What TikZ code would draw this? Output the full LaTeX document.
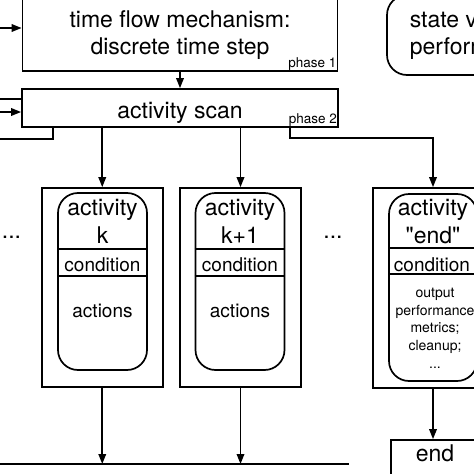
\documentclass[tikz,border=0pt]{standalone}
\usepackage{fontspec}
\setmainfont{TeX Gyre Heros}[Ligatures=TeXOff]
\usetikzlibrary{arrows.meta}
\begin{document}
\begin{tikzpicture}[x=1pt,y=-1pt, line width=1.7pt,
  box/.style={draw, rectangle, inner sep=0pt},
  rbox/.style={draw, rectangle, rounded corners=20pt, inner sep=0pt},
  big/.style={font=\fontsize{23}{27}\selectfont},
  mid/.style={font=\fontsize{19}{23}\selectfont},
  small/.style={font=\fontsize{14}{17.5}\selectfont},
  tag/.style={font=\fontsize{13.5}{16}\selectfont, inner sep=1pt, anchor=south east},
  arr/.style={-{Triangle[length=10pt,width=7.5pt]}},
  lbl/.style={anchor=base, inner sep=0pt},
]
\useasboundingbox (0,0) rectangle (474,474);
\clip (0,0) rectangle (474,474);

% phase 1: time flow
\node[box, minimum width=315pt, minimum height=77pt] (tf) at (180,32.5) {};
\node[big,lbl] (tft1) at (180,27) {time flow mechanism:};
\node[big,lbl] (tft2) at (180,54) {discrete time step};
\node[tag] (ph1) at (tf.south east) {phase 1};

% phase 2: activity scan
\node[box, minimum width=316pt, minimum height=38pt] (scan) at (180,108) {};
\node[big,lbl] (scant) at (180,118) {activity scan};
\node[tag] (ph2) at (scan.south east) {phase 2};

\draw[arr] (tf.south) -- (scan.north);

% state box (top right)
\node[rbox, minimum width=200pt, minimum height=80pt] (st) at (487,35) {};
\node[big, anchor=base west, inner sep=0pt] (st1) at (409,27) {state variables};
\node[big, anchor=base west, inner sep=0pt] (st2) at (409,54) {performance metrics};

% left inputs
\coordinate (l0) at (-2,28);
\coordinate (l1) at (-2,99);
\coordinate (l2) at (-2,112);
\coordinate (l3) at (-2,139);
\coordinate (x53) at (53,0);
\draw[arr] (l0) -- (l0 -| tf.west);
\draw (l1) -- (l1 -| scan.west);
\draw[arr] (l2) -- (l2 -| scan.west);
\draw (scan.south -| x53) |- (l3);

% divider levels
\coordinate (d1) at (0,249);
\coordinate (d2) at (0,276);
\coordinate (e1) at (0,248);
\coordinate (e2) at (0,274);

% activity k
\node[box, minimum width=121pt, minimum height=199pt] (ko) at (102.25,287.5) {};
\node[rbox, minimum width=89pt, minimum height=177pt] (ki) at (102.5,281.5) {};
\draw (ki.west |- d1) -- (ki.east |- d1);
\draw (ki.west |- d2) -- (ki.east |- d2);
\node[big,lbl] (ka) at (102.5,215) {activity};
\node[big,lbl] (kk) at (102.5,243.5) {k};
\node[mid,lbl] (kc) at (102.5,271.5) {condition};
\node[mid,lbl] (kx) at (102.5,317) {actions};

% activity k+1
\node[box, minimum width=121pt, minimum height=199pt] (mo) at (240.5,287.5) {};
\node[rbox, minimum width=89pt, minimum height=177pt] (mi) at (240,281.5) {};
\draw (mi.west |- d1) -- (mi.east |- d1);
\draw (mi.west |- d2) -- (mi.east |- d2);
\node[big,lbl] (ma) at (240,215) {activity};
\node[big,lbl] (mk) at (240,243.5) {k+1};
\node[mid,lbl] (mc) at (240,271.5) {condition};
\node[mid,lbl] (mx) at (240,317) {actions};

% activity end
\node[box, minimum width=120pt, minimum height=200pt] (eo) at (433,288) {};
\node[rbox, minimum width=88pt, minimum height=187pt] (ei) at (433,287.5) {};
\draw (ei.west |- e1) -- (ei.east |- e1);
\draw (ei.west |- e2) -- (ei.east |- e2);
\node[big,lbl] (ea) at (433,215) {activity};
\node[big,lbl] (ek) at (433,243) {"end"};
\node[mid,lbl] (ec) at (432,271.5) {condition};
\node[small,lbl] (ex1) at (435,297.5) {output};
\node[small,lbl] (ex2) at (435,315) {performance};
\node[small,lbl] (ex3) at (435,332.5) {metrics;};
\node[small,lbl] (ex4) at (435,350) {cleanup;};
\node[small,lbl] (ex5) at (435,368) {...};

% dots
\node[big,lbl] (dl) at (11.5,238.5) {...};
\node[big,lbl] (dm) at (333,238.5) {...};

% scan to activities
\draw[arr] (scan.south -| ko.north) -- (ko.north);
\draw[arr] (scan.south -| mo.north) -- (mo.north);
\coordinate (r1) at (290,0);
\coordinate (r2) at (433,138);
\draw[arr] (scan.south -| r1) |- (r2) -- (eo.north);

% bottom collector line
\coordinate (bl) at (-2,464);
\coordinate (br) at (349,464);
\draw (bl) -- (br);
\draw[arr] (ko.south) -- (ko.south |- bl);
\draw[arr] (mo.south) -- (mo.south |- bl);

% end
\node[box, minimum width=84pt, minimum height=34.5pt] (endb) at (433,457.25) {};
\node[big,lbl] (endt) at (435,461) {end};
\draw[arr] (eo.south) -- (endb.north);
\end{tikzpicture}
\end{document}
